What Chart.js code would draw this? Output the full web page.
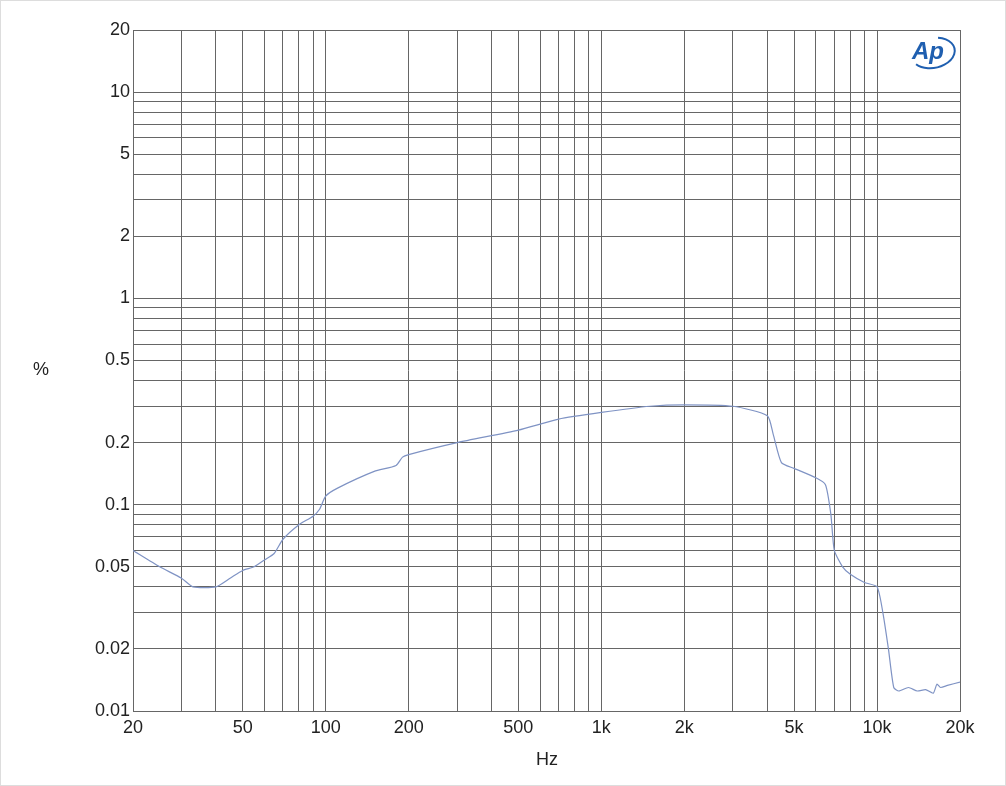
<!DOCTYPE html>
<html>
<head>
<meta charset="utf-8">
<script src="https://cdn.jsdelivr.net/npm/chart.js@4.4.0/dist/chart.umd.min.js"></script>
<style>
  html, body { margin: 0; padding: 0; background: #fff; }
  #wrap { width: 1006px; height: 786px; position: relative; box-sizing: border-box; border: 1px solid #ddd; }
</style>
</head>
<body>
<div id="wrap"><canvas id="c" width="1004" height="784"></canvas></div>
<script>
// frequency (Hz) and THD+N (%)
const freqs = [20, 25, 30, 33, 40, 45, 50, 55, 60, 65, 70, 80, 90, 95, 100, 110, 150, 180, 190, 200, 300, 500, 700, 1000, 1500, 2000, 3000, 4000, 4200, 4500, 5000, 6000, 6500, 6800, 7000, 7500, 8000, 9000, 10000, 10500, 11000, 11500, 12000, 13000, 14000, 15000, 16000, 16500, 17000, 18000, 20000];
const thd   = [0.06, 0.05, 0.044, 0.040, 0.040, 0.044, 0.048, 0.050, 0.054, 0.058, 0.068, 0.080, 0.088, 0.095, 0.11, 0.12, 0.145, 0.155, 0.17, 0.175, 0.20, 0.23, 0.26, 0.28, 0.30, 0.305, 0.30, 0.27, 0.22, 0.16, 0.15, 0.135, 0.125, 0.09, 0.06, 0.05, 0.046, 0.042, 0.040, 0.03, 0.02, 0.013, 0.0125, 0.013, 0.0125, 0.0127, 0.0122, 0.0135, 0.013, 0.0133, 0.0138];

const xGrid = [20,30,40,50,60,70,80,90,100,200,300,400,500,600,700,800,900,1000,2000,3000,4000,5000,6000,7000,8000,9000,10000,20000];
const xLabels = { 20: "20", 50: "50", 100: "100", 200: "200", 500: "500", 1000: "1k", 2000: "2k", 5000: "5k", 10000: "10k", 20000: "20k" };
const yGrid = [0.01,0.02,0.03,0.04,0.05,0.06,0.07,0.08,0.09,0.1,0.2,0.3,0.4,0.5,0.6,0.7,0.8,0.9,1,2,3,4,5,6,7,8,9,10,20];
const yLabels = { 0.01: "0.01", 0.02: "0.02", 0.05: "0.05", 0.1: "0.1", 0.2: "0.2", 0.5: "0.5", 1: "1", 2: "2", 5: "5", 10: "10", 20: "20" };

const font = { family: "Liberation Sans, Arial, sans-serif", size: 18 };

const extras = {
  id: "extras",
  afterDraw(chart) {
    const ctx = chart.ctx;
    ctx.save();
    ctx.fillStyle = "#222";
    ctx.font = "18px Liberation Sans, Arial, sans-serif";
    ctx.textAlign = "center";
    ctx.textBaseline = "middle";
    ctx.fillText("%", 40, 369);
    ctx.fillText("Hz", 546, 759);
    // logo
    ctx.fillStyle = "#1f5fb0";
    ctx.font = "italic bold 24px Liberation Sans, Arial, sans-serif";
    ctx.fillText("Ap", 927, 51);
    ctx.strokeStyle = "#1f5fb0";
    ctx.lineWidth = 2;
    ctx.beginPath();
    ctx.ellipse(932, 52, 22, 15, -0.2, -1.2, 2.6);
    ctx.stroke();
    ctx.restore();
  }
};

new Chart(document.getElementById("c"), {
  type: "line",
  data: {
    datasets: [{
      data: freqs.map((f, i) => ({ x: f, y: thd[i] })),
      borderColor: "#7f93c4",
      borderWidth: 1.2,
      pointRadius: 0,
      tension: 0.2,
      fill: false
    }]
  },
  options: {
    responsive: false,
    animation: false,
    layout: { padding: { top: 29, right: 45, left: 0, bottom: 0 } },
    plugins: { legend: { display: false }, tooltip: { enabled: false } },
    scales: {
      x: {
        type: "logarithmic", min: 20, max: 20000,
        afterBuildTicks: s => { s.ticks = xGrid.map(v => ({ value: v })); },
        afterFit: s => { s.height = 74; },
        ticks: { autoSkip: false, maxRotation: 0, color: "#222", font, padding: 6,
          callback: v => xLabels[v] || "" },
        grid: { color: "#666", lineWidth: 1, drawTicks: false },
        border: { color: "#666" }
      },
      y: {
        type: "logarithmic", min: 0.01, max: 20,
        afterBuildTicks: s => { s.ticks = yGrid.map(v => ({ value: v })); },
        afterFit: s => { s.width = 132; },
        ticks: { autoSkip: false, color: "#222", font, padding: 3,
          callback: v => yLabels[+v.toPrecision(6)] || "" },
        grid: { color: "#666", lineWidth: 1, drawTicks: false },
        border: { color: "#666" }
      }
    }
  },
  plugins: [extras]
});
</script>
</body>
</html>
